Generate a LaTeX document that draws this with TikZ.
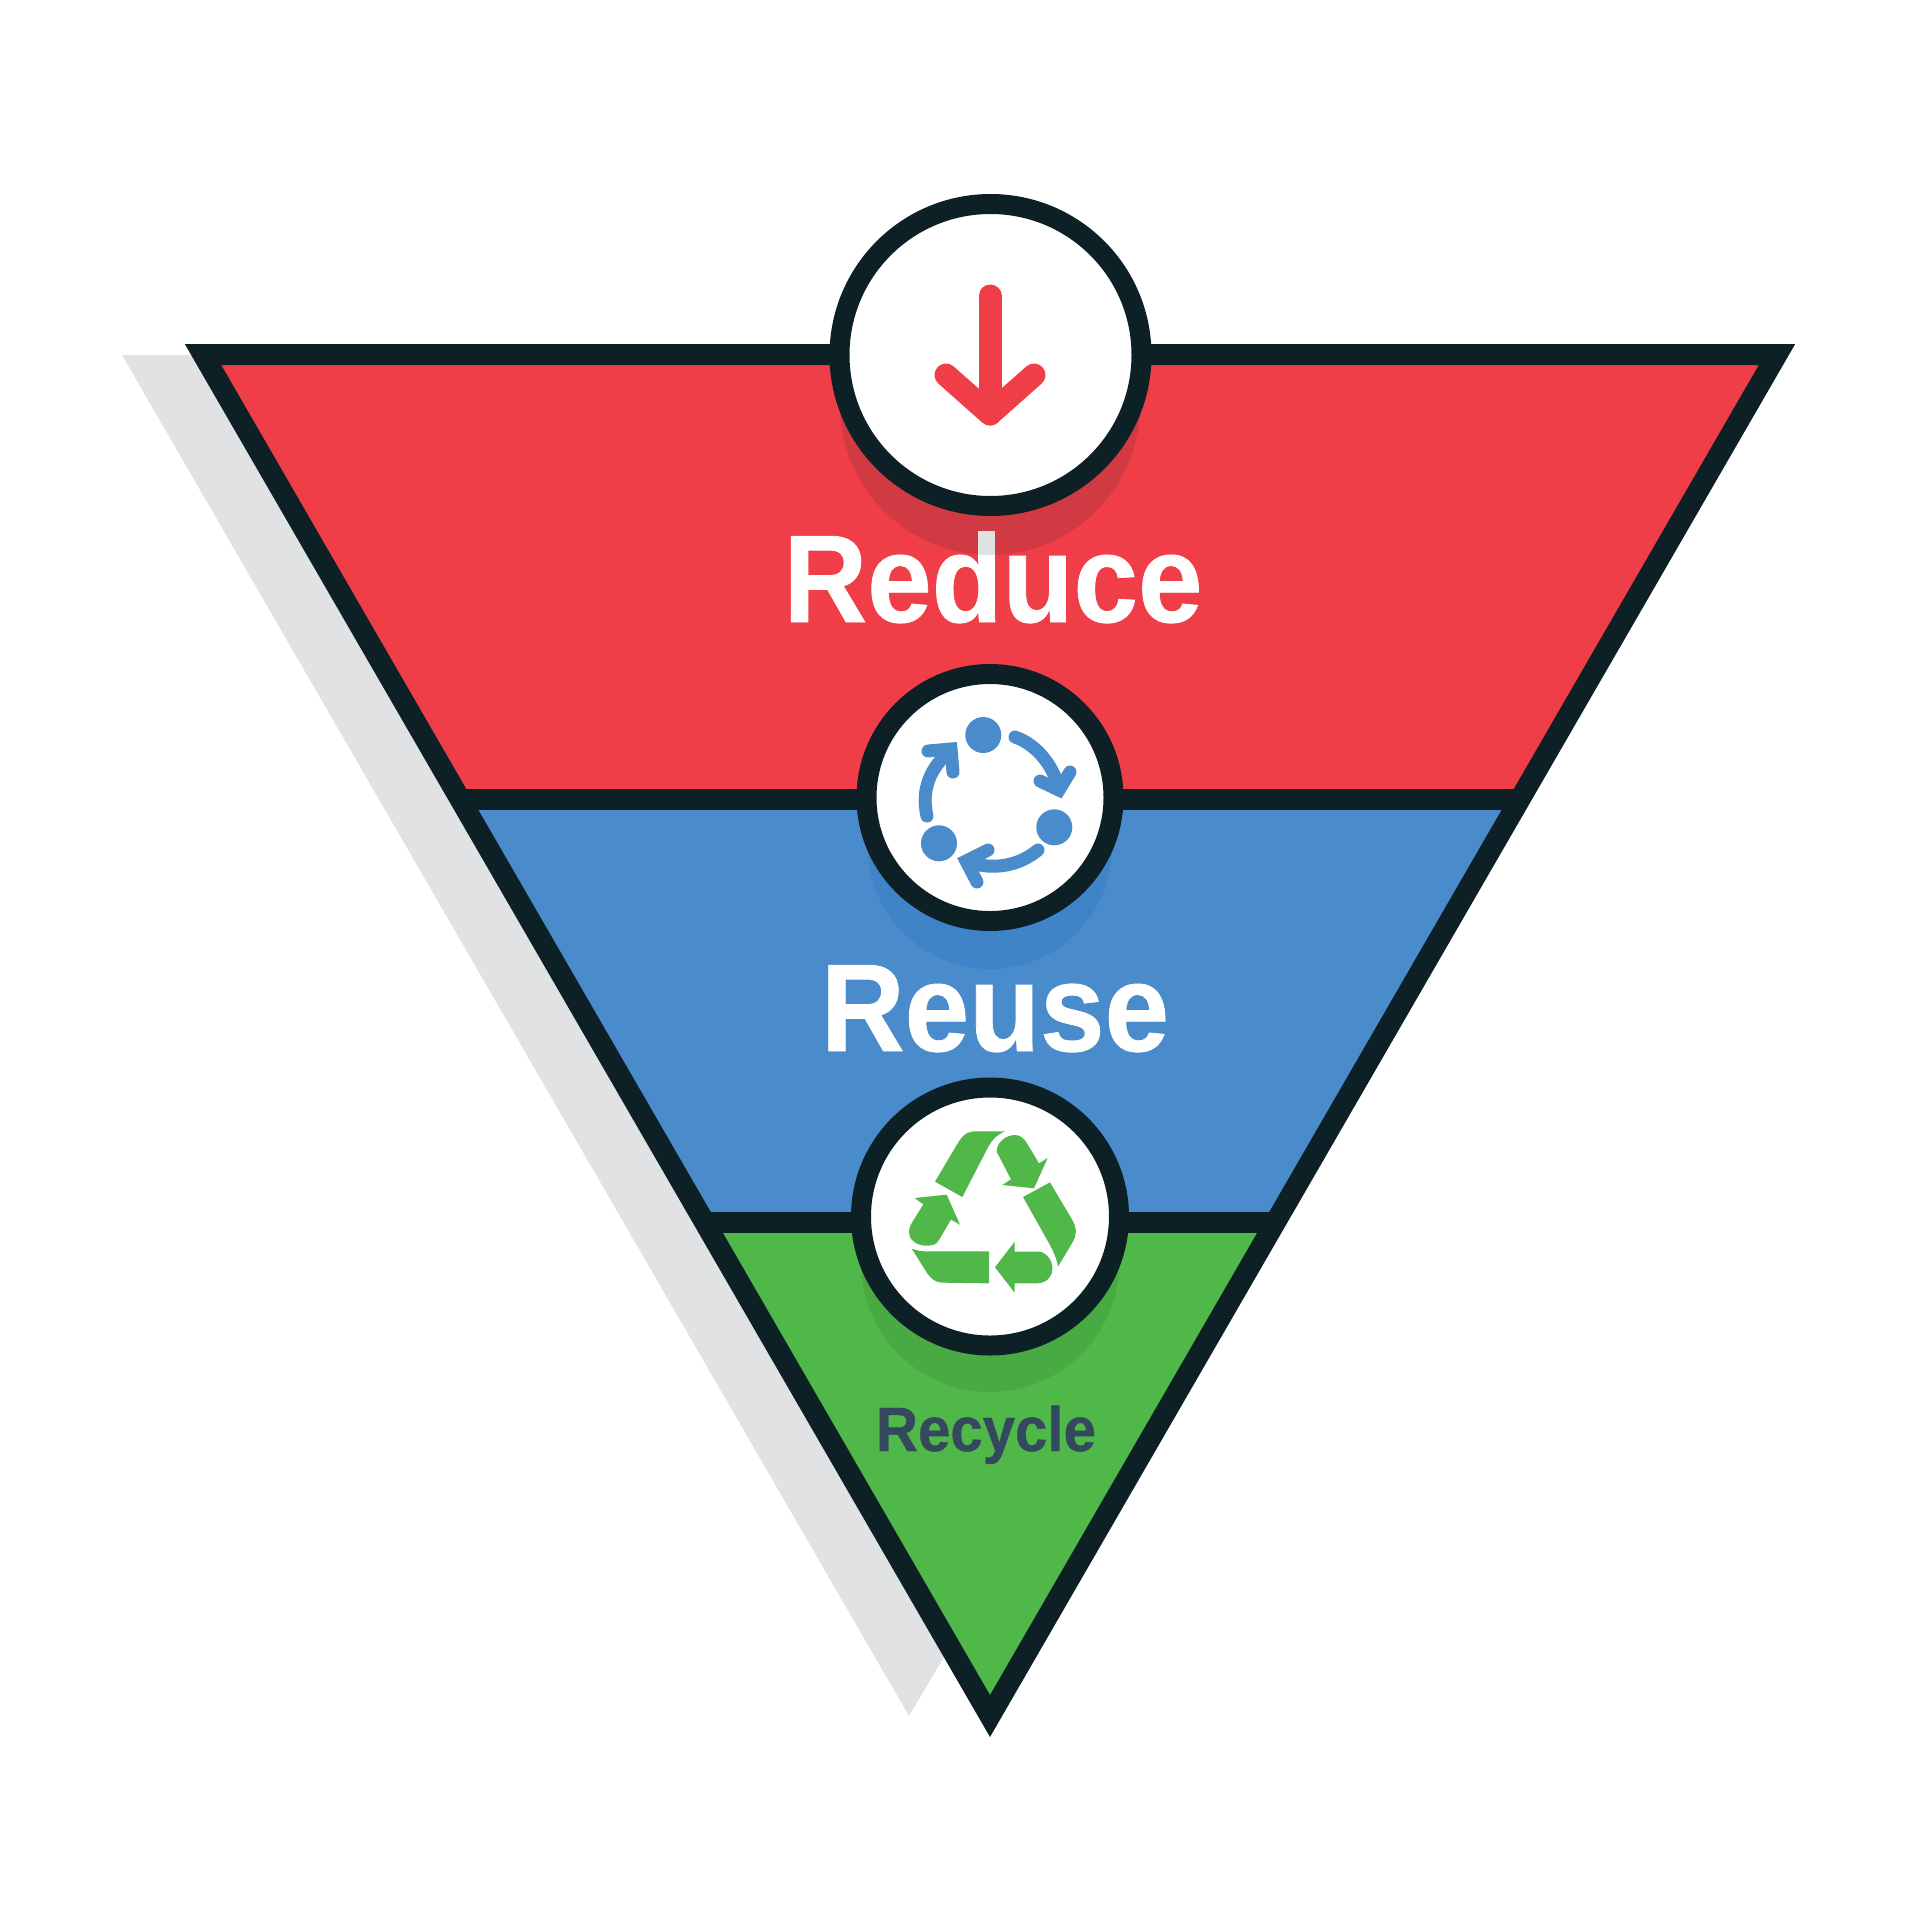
\documentclass[tikz,border=0pt]{standalone}
\usepackage{fontspec}
\setmainfont[FakeStretch=0.93,BoldFeatures={FakeBold=0.6}]{Liberation Sans}
\usetikzlibrary{calc}
\definecolor{inkdark}{HTML}{0D2026}
\definecolor{tierred}{HTML}{F03E48}
\definecolor{tierblue}{HTML}{4A8CCB}
\definecolor{tiergreen}{HTML}{50B848}
\definecolor{recycleink}{HTML}{34495E}
\definecolor{shadeblue}{HTML}{3F84C8}
\tikzset{
  badge/.style={circle,draw=inkdark,fill=white,line width=2mm,inner sep=0pt},
  badgeshade/.style={fill=inkdark,fill opacity=0.13},
  tierlabel/.style={anchor=base,inner sep=0pt,font=\bfseries\fontsize{35.5}{37}\selectfont,text=white},
  swoosh/.style={draw=tierblue,line width=1.3mm,line cap=round,line join=miter}
}

\begin{document}
\begin{tikzpicture}[x=0.1mm,y=-0.1mm]
      \useasboundingbox (0,0) rectangle (1920,1920);
      \coordinate (tl) at (203,354.5);
      \coordinate (tr) at (1777,354.5);
      \coordinate (apex) at (990,1716);
      \coordinate (bl) at ($(tl)!0.3268!(apex)$);
      \coordinate (br) at ($(tr)!0.3268!(apex)$);
      \coordinate (gl) at ($(tl)!0.6372!(apex)$);
      \coordinate (gr) at ($(tr)!0.6372!(apex)$);
      % backdrop
      \fill[inkdark,opacity=0.13] (122,355) -- (1715,355) -- (909,1716) -- cycle;
      % tiers
      \fill[tierred] (tl) -- (tr) -- (br) -- (bl) -- cycle;
      \fill[tierblue] (bl) -- (br) -- (gr) -- (gl) -- cycle;
      \fill[tiergreen] (gl) -- (gr) -- (apex) -- cycle;
      \draw[inkdark,line width=2.1mm] (bl) -- (br);
      \draw[inkdark,line width=2.1mm] (gl) -- (gr);
      \draw[inkdark,line width=2.1mm,miter limit=4] (tl) -- (tr) -- (apex) -- cycle;
      % labels
      \node[tierlabel] (reducelabel) at (993,622) {Reduce};
      \node[tierlabel] (reuselabel) at (995,1051) {Reuse};
      \node[tierlabel,font=\bfseries\fontsize{17.8}{19}\selectfont,text=recycleink] (recyclelabel) at (986,1451) {Recycle};
      % circles
      \fill[badgeshade] (990,405) circle (150);
      \fill[shadeblue] (990,847) circle (122);
      \fill[badgeshade,fill opacity=0.09] (990,1263) circle (129);
      \node[badge,minimum size=30.2mm] (reducebadge) at (990.5,355) {};
      \node[badge,minimum size=24.7mm] (reusebadge) at (990,797.5) {};
      \node[badge,minimum size=25.8mm] (recyclebadge) at (990,1216.5) {};
      % reduce arrow
      \draw[tierred,line width=2.3mm,line cap=round,line join=round] (990,296) -- (990,414);
      \draw[tierred,line width=2.3mm,line cap=round,line join=round] (946,375) -- (990,414) -- (1034,375);
      % reuse icon
      \fill[tierblue] (983.3,735) circle (18);
      \fill[tierblue] (1054.3,827.3) circle (18);
      \fill[tierblue] (939,843.3) circle (18);
      \draw[swoosh] (1015,737) .. controls (1040,746) and (1055,770) .. (1059,790);
      \draw[swoosh] (1040,781) -- (1059,790) -- (1070,772);
      \draw[swoosh] (1038,850) .. controls (1020,865) and (995,871) .. (968,862);
      \draw[swoosh] (988,850) -- (966,861) -- (977,882);
      \draw[swoosh] (927,816) .. controls (921,790) and (930,768) .. (950,751);
      \draw[swoosh] (928,751) -- (951,749) -- (953,772);
      % recycle icon
      \begin{scope}[shift={(840,1070)},scale=0.33333]
        \fill[tiergreen] (285,335) -- (350,225) .. controls (372,188) and (385,184) .. (410,184) -- (495,184) .. controls (470,195) and (460,205) .. (445,230) -- (367,381) -- cycle;
        \fill[tiergreen] (470,245) .. controls (470,215) and (500,195) .. (525,195) .. controls (545,195) and (555,210) .. (562,222) -- (597,280) -- (623,264) -- (582,355) -- (487,345) -- (513,328) -- cycle;
        \fill[tiergreen] (549,381) -- (630,337) -- (697,450) .. controls (712,478) and (710,495) .. (697,518) -- (654,590) .. controls (650,565) and (640,545) .. (630,525) -- cycle;
        \fill[tiergreen] (465,592) -- (524,515) -- (524,545) -- (600,545) .. controls (625,550) and (640,580) .. (637,600) .. controls (635,625) and (615,640) .. (590,640) -- (524,640) -- (524,668) -- cycle;
        \fill[tiergreen] (215,536) .. controls (230,542) and (245,544) .. (260,544) -- (447,544) -- (447,640) -- (310,638) .. controls (285,638) and (272,625) .. (262,610) -- cycle;
        \fill[tiergreen] (224,384) -- (320,374) -- (360,464) -- (333,449) -- (297,510) .. controls (290,525) and (275,527) .. (255,527) .. controls (225,525) and (205,505) .. (207,485) .. controls (207,470) and (215,460) .. (222,448) -- (250,403) -- cycle;
      \end{scope}
     \end{tikzpicture}
\end{document}
